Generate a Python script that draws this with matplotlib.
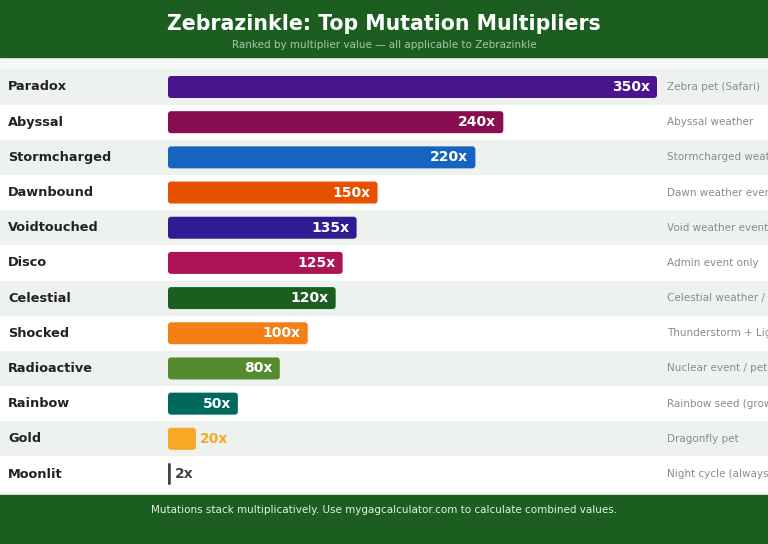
import matplotlib.pyplot as plt
from matplotlib.patches import FancyBboxPatch, Rectangle

# chart data
mutations = ['Paradox', 'Abyssal', 'Stormcharged', 'Dawnbound', 'Voidtouched', 'Disco',
             'Celestial', 'Shocked', 'Radioactive', 'Rainbow', 'Gold', 'Moonlit']
multipliers = [350, 240, 220, 150, 135, 125, 120, 100, 80, 50, 20, 2]
sources = ['Zebra pet (Safari)', 'Abyssal weather', 'Stormcharged weather',
           'Dawn weather event', 'Void weather event', 'Admin event only',
           'Celestial weather / event', 'Thunderstorm + Lightning', 'Nuclear event / pet',
           'Rainbow seed (growth)', 'Dragonfly pet', 'Night cycle (always)']
bar_colors = ['#4a148c', '#880e4f', '#1565c0', '#e65100', '#311b92', '#ad1457',
              '#1b5e20', '#f57f17', '#558b2f', '#00695c', '#f9a825', '#424242']

W, H = 768, 544
fig = plt.figure(figsize=(W / 100, H / 100), dpi=100, facecolor='#f7f7f7')

# header / footer bands
fig.patches.append(Rectangle((0, 1 - 57 / H), 1, 57 / H, transform=fig.transFigure,
                             color='#1b5e20', zorder=0))
fig.patches.append(Rectangle((0, 0), 1, 49 / H, transform=fig.transFigure,
                             color='#1b5e20', zorder=0))
fig.text(0.5, 1 - 24 / H, 'Zebrazinkle: Top Mutation Multipliers', ha='center', va='center',
         fontsize=14.8, fontweight='bold', color='white')
fig.text(0.5, 1 - 45 / H, 'Ranked by multiplier value \u2014 all applicable to Zebrazinkle',
         ha='center', va='center', fontsize=7.5, color='#a5c8a5')
fig.text(0.5, 34 / H, 'Mutations stack multiplicatively. Use mygagcalculator.com to calculate combined values.',
         ha='center', va='center', fontsize=7.5, color='#e8f0e8')

# main axes: x in multiplier units (0 at 168px, 350 at 657px), y in row index
px_x = (657 - 168) / 350.0
row_px = (474 - 87) / 11.0
ax = fig.add_axes([0, 49 / H, 1, (495 - 57) / H])
ax.set_xlim(-168 / px_x, (W - 168) / px_x)
ax.set_ylim((495 - 87) / row_px, (57 - 87) / row_px)
ax.axis('off')
ax.patch.set_alpha(0)

bar_h = 22 / row_px
aspect = px_x / row_px
for i, (name, val, src, col) in enumerate(zip(mutations, multipliers, sources, bar_colors)):
    bg = '#eef2ee' if i % 2 == 0 else '#ffffff'
    ax.axhspan(i - 0.5, i + 0.5, color=bg, zorder=1, lw=0)
    r = min(3 / px_x, val / 2.0)
    ax.add_patch(FancyBboxPatch((0, i - bar_h / 2), val, bar_h,
                                boxstyle=f'round,pad=0,rounding_size={r}',
                                mutation_aspect=aspect, fc=col, ec='none', zorder=2))
    ax.text(8 / px_x - 168 / px_x, i, name, ha='left', va='center', fontsize=9.3,
            fontweight='bold', color='#222222', zorder=3)
    if val >= 40:
        ax.text(val - 7 / px_x, i, f'{val}x', ha='right', va='center', fontsize=10,
                fontweight='bold', color='white', zorder=3)
    else:
        ax.text(val + 4 / px_x, i, f'{val}x', ha='left', va='center', fontsize=10,
                fontweight='bold', color=col, zorder=3)
    # source text runs off the right edge, as in the original
    ax.text((667 - 168) / px_x, i, src, ha='left', va='center', fontsize=7.5,
            color='#8a8a8a', zorder=3, clip_on=False)

fig.savefig('out.png', dpi=100, facecolor=fig.get_facecolor())
